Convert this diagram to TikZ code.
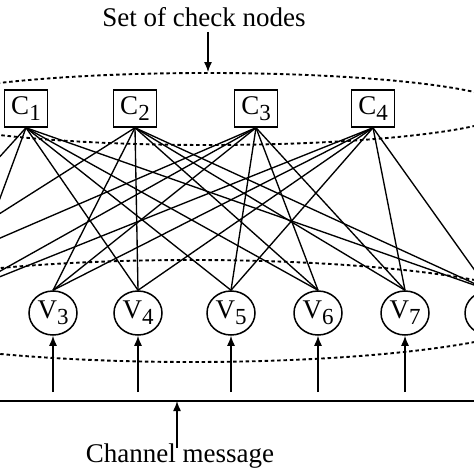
\documentclass[tikz,border=0pt]{standalone}
\usepackage{fontspec}
\setmainfont{Liberation Serif}
\usetikzlibrary{shapes.geometric,arrows.meta}
\newcommand{\ldpcsub}[1]{\raisebox{-6bp}{\fontsize{23bp}{23bp}\selectfont #1}}
\begin{document}
\begin{tikzpicture}[x=1bp,y=-1bp,
  chk/.style={draw,line width=1.5bp,minimum width=43bp,minimum height=37bp,inner sep=0pt,font=\fontsize{27bp}{30bp}\selectfont},
  var/.style={draw,ellipse,line width=1.5bp,minimum width=48bp,minimum height=44bp,inner sep=0pt,font=\fontsize{27bp}{30bp}\selectfont},
  edgeline/.style={line width=1.35bp},
  group/.style={draw,ellipse,dash pattern=on 3.5bp off 2.8bp,line width=1.9bp,inner sep=0pt},
  inarr/.style={line width=1.4bp,-{Latex[length=10bp,width=8bp]}},
  lbl/.style={font=\fontsize{27bp}{30bp}\selectfont,inner sep=0pt}
]
\useasboundingbox (0,0) rectangle (474,474);
\fill[white] (0,0) rectangle (474,474);
\clip (0,0) rectangle (474,474);

% groups
\node[group,minimum width=604bp,minimum height=72bp] (checkset) at (208,109) {};
\node[group,minimum width=712bp,minimum height=102bp] (varset) at (192,311) {};

% check nodes
\node[chk] (c1) at (26,108.5) {C\ldpcsub{1}};
\node[chk] (c2) at (135,108.5) {C\ldpcsub{2}};
\node[chk] (c3) at (256,108.5) {C\ldpcsub{3}};
\node[chk] (c4) at (373,108.5) {C\ldpcsub{4}};

% variable nodes (V1, V2 and the label of V8 lie outside the visible frame)
\foreach \i/\x in {1/-121,2/-34,8/489}{
  \node[var] (v\i) at (\x,313) {};
  \coordinate (a\i) at (\x,392);
  \draw[inarr] (a\i) -- (v\i.south);
}
\foreach \i/\x in {3/53,4/138,5/231,6/318,7/405}{
  \node[var] (v\i) at (\x,313) {V\ldpcsub{\i}};
  \coordinate (a\i) at (\x,392);
  \draw[inarr] (a\i) -- (v\i.south);
}

% edges
\foreach \c/\vs in {c1/{v1,v2,v4,v5,v6,v8},c2/{v1,v3,v4,v6,v7,v8},c3/{v1,v2,v3,v5,v6,v7},c4/{v2,v3,v4,v5,v7,v8}}{
  \foreach \v in \vs { \draw[edgeline] (\c.south) -- (\v.north); }
}

% set of check nodes label
\node[lbl,anchor=base] (settext) at (204,27) {Set of check nodes};
\coordinate (sets) at (208,32);
\draw[inarr] (sets) -- (checkset.north);

% channel
\coordinate (chl) at (-10,401);
\coordinate (chr) at (484,401);
\draw[line width=1.5bp] (chl) -- (chr);
\coordinate (chm) at (177,401);
\node[lbl,anchor=base] (chtext) at (180,462) {Channel message};
\coordinate (chs) at (177,448);
\draw[inarr] (chs) -- (chm);
\end{tikzpicture}
\end{document}
